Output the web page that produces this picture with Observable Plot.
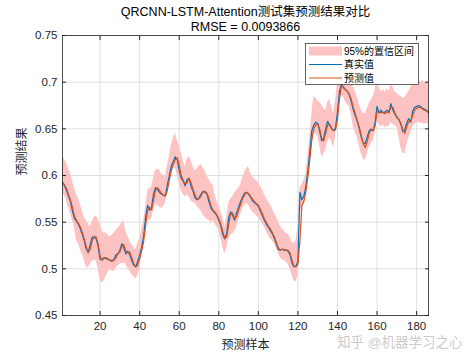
<!DOCTYPE html>
<html>
<head>
<meta charset="utf-8">
<script src="https://cdn.jsdelivr.net/npm/d3@7"></script>
<script src="https://cdn.jsdelivr.net/npm/@observablehq/plot@0.6"></script>
<style>
  html, body { margin: 0; padding: 0; background: #fff; }
</style>
</head>
<body>
<div id="chart"></div>
<script>
// ---------- data ----------
const titleLine1 = "QRCNN-LSTM-Attention测试集预测结果对比";
const titleLine2 = "RMSE = 0.0093866";
const xLabel = "预测样本";
const yLabel = "预测结果";
const legendLabels = ["95%的置信区间", "真实值", "预测值"];
const watermark = "知乎 @机器学习之心";

const xTicks = [20, 40, 60, 80, 100, 120, 140, 160, 180];
const yTicks = [0.45, 0.5, 0.55, 0.6, 0.65, 0.7, 0.75];
const xDomain = [1, 186];
const yDomain = [0.45, 0.75];

const trueVals = [
0.593,0.589,0.584,0.578,0.572,0.562,0.554,0.551,0.548,0.543,
0.537,0.530,0.521,0.518,0.526,0.534,0.533,0.533,0.524,0.510,
0.510,0.512,0.511,0.510,0.509,0.509,0.510,0.515,0.516,0.520,
0.527,0.522,0.516,0.519,0.515,0.509,0.504,0.502,0.508,0.515,
0.523,0.535,0.555,0.568,0.563,0.566,0.580,0.587,0.585,0.582,
0.580,0.579,0.578,0.590,0.600,0.610,0.615,0.620,0.617,0.605,
0.597,0.594,0.589,0.596,0.597,0.588,0.583,0.576,0.574,0.576,
0.580,0.583,0.582,0.580,0.572,0.565,0.562,0.560,0.557,0.552,
0.546,0.537,0.532,0.538,0.555,0.561,0.557,0.552,0.560,0.566,
0.572,0.577,0.581,0.582,0.580,0.577,0.573,0.571,0.569,0.567,
0.562,0.557,0.552,0.548,0.545,0.541,0.538,0.533,0.527,0.521,
0.520,0.521,0.520,0.520,0.519,0.515,0.506,0.502,0.503,0.508,
0.582,0.574,0.578,0.588,0.605,0.625,0.648,0.654,0.657,0.656,
0.647,0.637,0.640,0.650,0.658,0.654,0.650,0.648,0.651,0.668,
0.690,0.698,0.694,0.692,0.690,0.686,0.679,0.670,0.664,0.658,
0.650,0.641,0.635,0.634,0.641,0.648,0.650,0.648,0.657,0.674,
0.667,0.670,0.667,0.668,0.670,0.668,0.677,0.670,0.666,0.662,
0.660,0.655,0.647,0.649,0.656,0.661,0.657,0.669,0.673,0.674,
0.675,0.674,0.672,0.671,0.670,0.668
];

const predVals = [
0.591,0.590,0.586,0.580,0.574,0.566,0.557,0.552,0.549,0.545,
0.539,0.532,0.524,0.517,0.521,0.530,0.535,0.534,0.527,0.514,
0.509,0.511,0.512,0.511,0.509,0.508,0.509,0.512,0.516,0.518,
0.524,0.526,0.519,0.517,0.518,0.512,0.506,0.502,0.504,0.511,
0.519,0.529,0.546,0.562,0.566,0.563,0.573,0.584,0.587,0.584,
0.581,0.579,0.578,0.584,0.595,0.605,0.612,0.617,0.619,0.611,
0.600,0.595,0.591,0.592,0.597,0.592,0.585,0.579,0.575,0.575,
0.578,0.582,0.583,0.581,0.576,0.568,0.563,0.561,0.558,0.554,
0.548,0.540,0.533,0.534,0.547,0.559,0.560,0.554,0.556,0.563,
0.569,0.575,0.579,0.582,0.581,0.578,0.575,0.572,0.570,0.568,
0.564,0.559,0.554,0.550,0.546,0.543,0.539,0.535,0.529,0.523,
0.520,0.521,0.521,0.520,0.520,0.517,0.509,0.503,0.502,0.505,
0.530,0.568,0.572,0.582,0.598,0.617,0.638,0.650,0.654,0.655,
0.650,0.640,0.637,0.645,0.654,0.655,0.651,0.648,0.649,0.660,
0.682,0.696,0.695,0.692,0.690,0.687,0.681,0.673,0.666,0.659,
0.652,0.643,0.634,0.630,0.636,0.645,0.649,0.648,0.653,0.668,
0.669,0.667,0.668,0.666,0.668,0.667,0.673,0.673,0.667,0.663,
0.660,0.656,0.649,0.645,0.652,0.658,0.658,0.664,0.670,0.672,
0.673,0.673,0.671,0.670,0.669,0.667
];

const upperVals = [
0.620,0.617,0.613,0.608,0.602,0.595,0.587,0.580,0.575,0.570,
0.562,0.555,0.552,0.548,0.545,0.550,0.555,0.557,0.553,0.548,
0.541,0.538,0.539,0.536,0.534,0.536,0.538,0.541,0.543,0.546,
0.549,0.552,0.540,0.535,0.530,0.526,0.523,0.520,0.527,0.532,
0.541,0.552,0.565,0.583,0.587,0.587,0.597,0.605,0.607,0.606,
0.602,0.600,0.598,0.610,0.620,0.632,0.640,0.645,0.638,0.632,
0.624,0.616,0.609,0.618,0.620,0.616,0.610,0.605,0.607,0.610,
0.612,0.608,0.605,0.600,0.596,0.592,0.590,0.580,0.573,0.568,
0.562,0.555,0.545,0.555,0.570,0.575,0.577,0.581,0.584,0.586,
0.590,0.597,0.603,0.607,0.610,0.603,0.599,0.596,0.595,0.592,
0.589,0.585,0.580,0.576,0.572,0.569,0.565,0.560,0.556,0.551,
0.546,0.543,0.541,0.538,0.537,0.534,0.529,0.527,0.530,0.545,
0.587,0.590,0.595,0.602,0.620,0.641,0.665,0.684,0.683,0.680,
0.678,0.676,0.672,0.670,0.678,0.682,0.674,0.666,0.680,0.700,
0.712,0.716,0.715,0.712,0.710,0.708,0.702,0.695,0.690,0.684,
0.677,0.670,0.667,0.666,0.671,0.677,0.681,0.684,0.692,0.702,
0.695,0.690,0.692,0.689,0.693,0.690,0.697,0.695,0.690,0.688,
0.686,0.685,0.683,0.683,0.687,0.690,0.694,0.700,0.702,0.701,
0.703,0.700,0.702,0.699,0.700,0.698
];

const lowerVals = [
0.584,0.578,0.573,0.566,0.559,0.552,0.545,0.530,0.527,0.521,
0.515,0.509,0.502,0.501,0.505,0.508,0.509,0.509,0.500,0.488,
0.485,0.487,0.492,0.496,0.499,0.498,0.497,0.500,0.503,0.505,
0.506,0.506,0.505,0.501,0.498,0.494,0.491,0.489,0.492,0.498,
0.515,0.530,0.545,0.555,0.552,0.553,0.562,0.570,0.568,0.566,
0.565,0.566,0.570,0.582,0.592,0.603,0.607,0.609,0.600,0.592,
0.584,0.580,0.577,0.579,0.577,0.573,0.571,0.570,0.567,0.565,
0.562,0.558,0.555,0.553,0.552,0.549,0.552,0.548,0.545,0.541,
0.533,0.523,0.516,0.522,0.532,0.536,0.537,0.540,0.544,0.552,
0.558,0.564,0.568,0.570,0.568,0.565,0.561,0.559,0.557,0.555,
0.552,0.548,0.545,0.540,0.536,0.532,0.530,0.527,0.522,0.518,
0.512,0.510,0.509,0.507,0.505,0.500,0.493,0.487,0.486,0.492,
0.560,0.565,0.570,0.580,0.594,0.609,0.628,0.645,0.645,0.642,
0.632,0.620,0.622,0.627,0.636,0.641,0.636,0.630,0.640,0.662,
0.678,0.686,0.684,0.679,0.676,0.674,0.665,0.652,0.646,0.641,
0.632,0.623,0.618,0.616,0.622,0.630,0.634,0.637,0.645,0.659,
0.655,0.652,0.654,0.651,0.653,0.652,0.657,0.655,0.653,0.652,
0.642,0.630,0.624,0.623,0.632,0.640,0.645,0.652,0.655,0.656,
0.657,0.656,0.656,0.655,0.656,0.655
];

// ---------- build table ----------
const data = trueVals.map((t, k) => ({
  i: k + 1, t, p: predVals[k], lo: lowerVals[k], hi: upperVals[k]
}));

const FONT = "'Liberation Sans', Arial, 'Noto Sans CJK SC', sans-serif";
const INK = "#262626";
const BAND = "#fdc3c3";
const BLUE = "#0072BD";
const ORANGE = "#D95319";
const fmt = d => String(+d.toFixed(2));

const chart = Plot.plot({
  width: 474,
  height: 355,
  marginLeft: 62,
  marginRight: 46,
  marginTop: 35,
  marginBottom: 40,
  style: { fontFamily: FONT, fontSize: "11.5px", color: INK, background: "#fff" },
  x: { domain: xDomain, label: null },
  y: { domain: yDomain, label: null },
  marks: [
    Plot.gridX(xTicks, { stroke: "#dedede", strokeOpacity: 1 }),
    Plot.gridY(yTicks, { stroke: "#dedede", strokeOpacity: 1 }),
    Plot.areaY(data, { x: "i", y1: "lo", y2: "hi", fill: BAND, curve: "linear" }),
    Plot.lineY(data, { x: "i", y: "t", stroke: BLUE, strokeWidth: 1.2 }),
    Plot.lineY(data, { x: "i", y: "p", stroke: ORANGE, strokeWidth: 1.2 }),
    Plot.frame({ stroke: INK, strokeWidth: 0.8 }),
    Plot.axisX(xTicks, { anchor: "bottom", tickSize: -4, tickPadding: 10, fontSize: 11.5, label: null }),
    Plot.axisX(xTicks, { anchor: "top", tickSize: -4, tickFormat: () => "", label: null }),
    Plot.axisY(yTicks, { anchor: "left", tickSize: -4, tickPadding: 9, tickFormat: fmt, fontSize: 11.5, label: null }),
    Plot.axisY(yTicks, { anchor: "right", tickSize: -4, tickFormat: () => "", label: null }),
    Plot.text([titleLine1], { frameAnchor: "top", dy: -24, fontSize: 12.5, fill: "#000", lineAnchor: "middle" }),
    Plot.text([titleLine2], { frameAnchor: "top", dy: -9, fontSize: 12.5, fill: "#000", lineAnchor: "middle" }),
    Plot.text([xLabel], { frameAnchor: "bottom", dy: 30, fontSize: 12, fill: INK, lineAnchor: "middle" }),
    Plot.text([yLabel], { frameAnchor: "left", dx: -40, rotate: -90, fontSize: 12, fill: INK, lineAnchor: "middle" }),
    Plot.text([watermark], { frameAnchor: "bottom-right", dx: 34, dy: 27, fontSize: 13.5, fill: "#c4c4c4", textAnchor: "end", lineAnchor: "middle", fillOpacity: 0.9 })
  ]
});

document.getElementById("chart").appendChild(chart);

// ---------- legend (MATLAB-style box, top right inside axes) ----------
const svg = d3.select(chart);
const lg = svg.append("g").attr("font-family", FONT).attr("font-size", 10)
  .attr("fill", "#000").attr("text-anchor", "start");
lg.append("rect").attr("x", 305.5).attr("y", 43.5).attr("width", 113).attr("height", 41)
  .attr("fill", "#fff").attr("stroke", INK).attr("stroke-width", 0.7);
const rows = [51, 64.5, 78];
lg.append("rect").attr("x", 309).attr("y", rows[0] - 4.5).attr("width", 33).attr("height", 9).attr("fill", BAND);
lg.append("line").attr("x1", 309).attr("x2", 342).attr("y1", rows[1]).attr("y2", rows[1]).attr("stroke", BLUE).attr("stroke-width", 1.2);
lg.append("line").attr("x1", 309).attr("x2", 342).attr("y1", rows[2]).attr("y2", rows[2]).attr("stroke", ORANGE).attr("stroke-width", 1.2);
legendLabels.forEach((t, k) => {
  lg.append("text").attr("x", 344).attr("y", rows[k]).attr("dy", "0.35em")
    .attr("text-anchor", "start").text(t);
});
</script>
</body>
</html>
